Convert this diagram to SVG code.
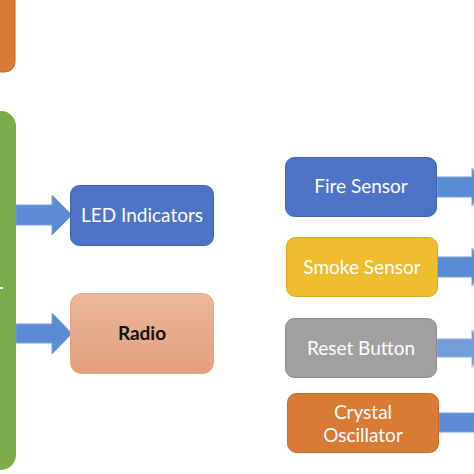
<svg xmlns="http://www.w3.org/2000/svg" width="474" height="474" viewBox="0 0 474 474">
<defs>
<style>
.lbl{font-family:Lato,"Open Sans","Liberation Sans",sans-serif;font-size:19px;text-anchor:middle;fill:#fff}
.arr{fill:#5B8BD3;stroke:#7DA3DD;stroke-width:1}
</style>
<linearGradient id="radioG" x1="0" y1="0" x2="0" y2="1">
<stop offset="0" stop-color="#EBB79C"/>
<stop offset="1" stop-color="#E49F7C"/>
</linearGradient>
</defs>
<rect width="474" height="474" fill="#fff"/>
<g id="connectors">
<path class="arr" d="M16 205 H52 V195 L72 215 L52 235 V225 H16 Z"/>
<path class="arr" d="M16 324 H52 V313 L72 333.5 L52 354 V343 H16 Z"/>
<path class="arr" d="M437 177 H472 V168 L482 187 L472 206 V197 H437 Z"/>
<path class="arr" d="M437 257 H472 V248 L482 267 L472 286 V277 H437 Z"/>
<path class="arr" d="M437 339 H472 V330 L482 348 L472 367 V357 H437 Z" opacity="0.85"/>
<path class="arr" d="M439 413 H476 V432 H439 Z"/>
</g>
<g id="top-block"><rect x="-20" y="-12" width="35" height="84" rx="10" fill="#D97A35" stroke="#C06A2C"/></g>
<g id="main-block"><rect x="-30" y="111" width="46" height="359" rx="15" fill="#7DAB4B"/><rect x="0" y="287" width="3" height="2" fill="#fff"/></g>
<g id="led"><rect x="70.5" y="185.5" width="143" height="60" rx="9" fill="#4E72C6" stroke="#3F61AF"/><text class="lbl" x="142" y="222">LED Indicators</text></g>
<g id="radio"><rect x="70.5" y="293.5" width="143" height="80" rx="11" fill="url(#radioG)" stroke="#E3A582"/><text class="lbl" x="142" y="340" style="fill:#111;font-weight:bold">Radio</text></g>
<g id="fire"><rect x="285.5" y="157.5" width="151" height="59" rx="9" fill="#4E72C6" stroke="#3F61AF"/><text class="lbl" x="361" y="193">Fire Sensor</text></g>
<g id="smoke"><rect x="286.5" y="237.5" width="151" height="59" rx="9" fill="#EEBE2E" stroke="#D7A824"/><text class="lbl" x="362" y="274">Smoke Sensor</text></g>
<g id="reset"><rect x="285.5" y="318.5" width="151" height="59" rx="9" fill="#A0A0A0" stroke="#8B8B8B"/><text class="lbl" x="361" y="355">Reset Button</text></g>
<g id="crystal"><rect x="287.5" y="393.5" width="151" height="59" rx="9" fill="#D97A35" stroke="#C06A2C"/><text class="lbl" x="363" y="419">Crystal</text><text class="lbl" x="363" y="442">Oscillator</text></g>
</svg>
